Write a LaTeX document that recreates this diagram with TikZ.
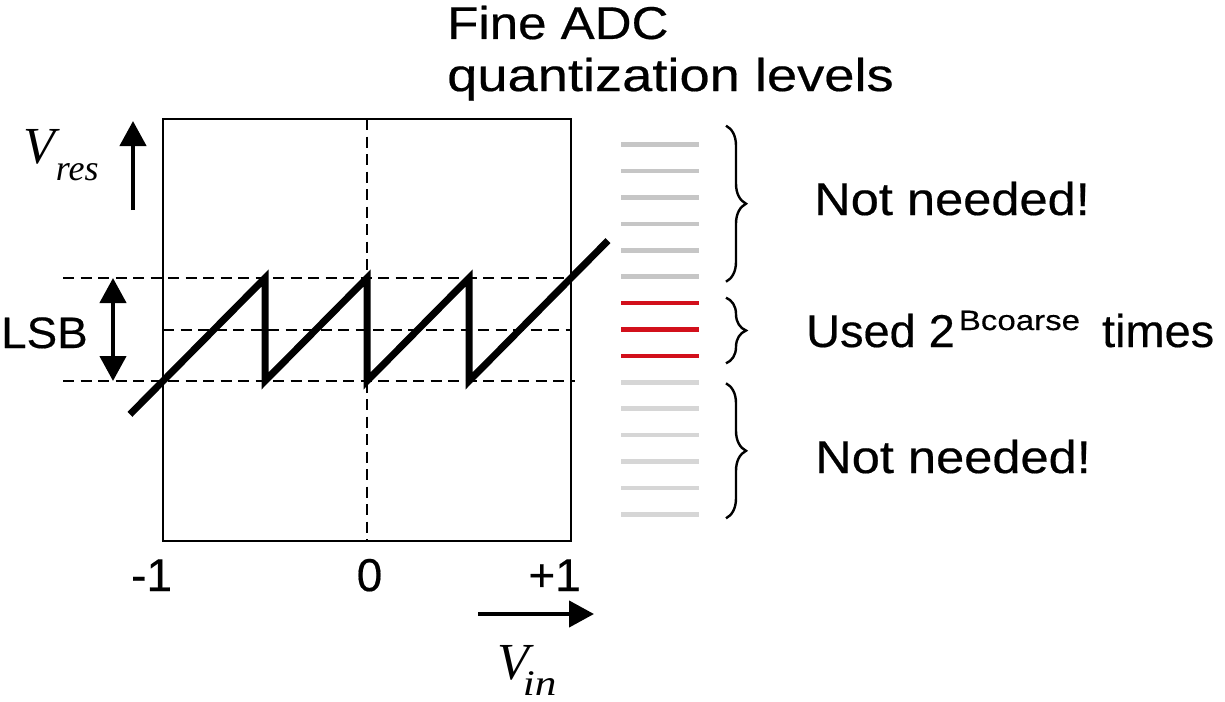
\documentclass[tikz,border=0pt]{standalone}
\usepackage{fontspec}
\usepackage{graphicx}
\setmainfont{Liberation Sans}[FakeBold=0.4]
\newfontfamily\tnr{Liberation Serif}
\usetikzlibrary{arrows.meta,decorations.pathreplacing}
\definecolor{lvlgray}{HTML}{C6C6C6}
\definecolor{lvllight}{HTML}{D6D6D6}
\definecolor{lvlred}{HTML}{D2101B}
\tikzset{
  lbl/.style={inner sep=0pt, font=\fontsize{46}{46}\selectfont},
  dashln/.style={line width=2pt, dash pattern=on 11pt off 6.5pt},
  saw/.style={line width=7pt, line join=miter},
  axarrow/.style={line width=4.3pt, -{Triangle[length=25pt,width=26pt]}},
  dblarrow/.style={line width=4.3pt, {Triangle[length=25pt,width=26pt]}-{Triangle[length=25pt,width=26pt]}},
  frame/.style={line width=2.2pt},
  lvl/.style={line width=4.5pt},
  brc/.style={decorate, decoration={brace, amplitude=20pt}, line width=2.4pt}
}
\begin{document}
\begin{tikzpicture}[x=1pt,y=-1pt]
\useasboundingbox (0,0) rectangle (1225,701);
% plot frame
\coordinate (bl) at (163,541);
\coordinate (tr) at (571,119);
\draw[frame] (163,119) rectangle (571,541);
% dashed guides
\coordinate (vt) at (367,119);
\coordinate (vb) at (367,541);
\draw[dashln] (vt) -- (vb);
\coordinate (hu0) at (63,278);
\coordinate (hu1) at (571,278);
\coordinate (hm0) at (163,329.5);
\coordinate (hm1) at (571,329.5);
\coordinate (hl0) at (63,381);
\coordinate (hl1) at (575,381);
\draw[dashln] (hu0) -- (hu1);
\draw[dashln] (hm0) -- (hm1);
\draw[dashln] (hl0) -- (hl1);
% sawtooth
\coordinate (s0) at (130,414.3);
\coordinate (p1) at (265,278);
\coordinate (q1) at (265,381);
\coordinate (p2) at (367,278);
\coordinate (q2) at (367,381);
\coordinate (p3) at (469,278);
\coordinate (q3) at (469,381);
\coordinate (s1) at (608,240.6);
\draw[saw] (s0) -- (p1) -- (q1) -- (p2) -- (q2) -- (p3) -- (q3) -- (s1);
% axis arrows
\coordinate (ra0) at (133,210);
\coordinate (ra1) at (133,121);
\draw[axarrow] (ra0) -- (ra1);
\coordinate (ia0) at (478,614);
\coordinate (ia1) at (594,614);
\draw[axarrow] (ia0) -- (ia1);
\coordinate (la0) at (113,278);
\coordinate (la1) at (113,381);
\draw[dblarrow] (la0) -- (la1);
% labels
\node[lbl, anchor=base west] (lsb) at (1,348) {\fontsize{44}{44}\selectfont\scalebox{1.04}[1]{LSB}};
\node[lbl, anchor=base west] (m1) at (131,591) {-1};
\node[lbl, anchor=base] (z0) at (369.5,591) {0};
\node[lbl, anchor=base east] (p1l) at (581,591) {+1};
\node[inner sep=0pt, anchor=base west] (vres) at (23,163) {\tnr\itshape\fontsize{52}{52}\selectfont V\kern1pt\raisebox{-17pt}{\fontsize{36}{36}\selectfont res}};
\node[inner sep=0pt, anchor=base west] (vin) at (497,679) {\tnr\itshape\fontsize{52}{52}\selectfont V\kern-6pt\raisebox{-16pt}{\scalebox{1.2}[1]{\fontsize{36}{36}\selectfont in}}};
\node[lbl, anchor=base west] (t1) at (447,39) {\scalebox{1.11}[1]{Fine ADC}};
\node[lbl, anchor=base west] (t2) at (447,91) {\scalebox{1.18}[1]{quantization levels}};
\node[lbl, anchor=base west] (n1) at (814,215) {\scalebox{1.1}[1]{Not needed!}};
\node[lbl, anchor=base west] (u1) at (806,347) {\scalebox{1.02}[1]{Used 2}\kern4pt\raisebox{17pt}{\scalebox{1.18}[1]{\fontsize{28}{28}\selectfont Bcoarse}}\kern22pt\scalebox{1.02}[1]{times}};
\node[lbl, anchor=base west] (n2) at (815,473) {\scalebox{1.1}[1]{Not needed!}};
% quantization levels
\foreach \k in {0,...,5} {\draw[lvl, lvlgray] (621,144.7+26.4*\k) -- (699,144.7+26.4*\k);}
\foreach \k in {6,7,8} {\draw[lvl, lvlred] (621,144.7+26.4*\k) -- (699,144.7+26.4*\k);}
\foreach \k in {9,...,14} {\draw[lvl, lvllight] (621,144.7+26.4*\k) -- (699,144.7+26.4*\k);}
% braces
\coordinate (b1a) at (726,125.7);
\coordinate (b1b) at (726,281.7);
\coordinate (b2a) at (726,297.7);
\coordinate (b2b) at (726,363.3);
\coordinate (b3a) at (726,383.3);
\coordinate (b3b) at (726,518.3);
\draw[brc] (b1a) -- (b1b);
\draw[brc] (b2a) -- (b2b);
\draw[brc] (b3a) -- (b3b);
\end{tikzpicture}
\end{document}
